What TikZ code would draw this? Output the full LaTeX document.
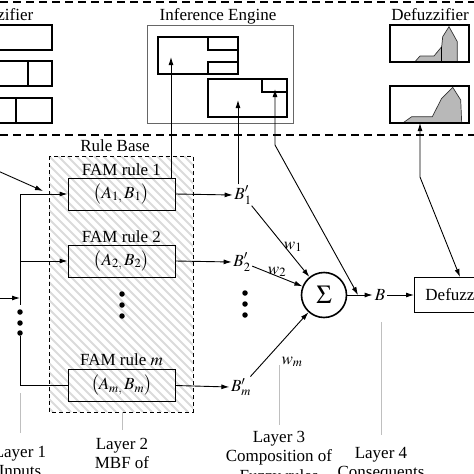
\documentclass[tikz,border=0pt]{standalone}
\usepackage{mathptmx}
\usepackage{fontspec}
\setmainfont{Liberation Serif}
\usetikzlibrary{arrows.meta}
\begin{document}
\begin{tikzpicture}[x=1pt,y=-1pt,
  font=\fontsize{17}{18.5}\selectfont,
  >={Latex[length=8pt,width=5pt]},
  conn/.style={->,line width=0.9pt},
  biconn/.style={<->,line width=0.9pt},
  plain/.style={line width=0.9pt},
  thickbox/.style={line width=1.6pt},
  famrect/.style={draw,line width=0.9pt,minimum width=107pt,minimum height=32pt,inner sep=0pt},
  lab/.style={inner sep=0pt},
  sepline/.style={line width=2pt,dash pattern=on 8pt off 5pt},
  layerline/.style={draw=black!25,line width=0.8pt},
  dotn/.style={circle,fill=black,inner sep=0pt,minimum size=5.5pt},
  shade/.style={fill=black!28,draw=black!80,line width=0.7pt}]
\useasboundingbox (0,0) rectangle (474,474);
\clip (0,0) rectangle (474,474);
\fill[white] (0,0) rectangle (474,474);

% separators
\draw[sepline] (0,1.5) -- (474,1.5);
\draw[sepline] (0,135) -- (474,135);

% Fuzzifier
\node[lab,anchor=base east] (fuzt) at (33.5,20) {Fuzzifier};
\draw[thickbox] (-10,25) rectangle (52,50);
\draw[thickbox] (-10,61) rectangle (52,86);
\draw[thickbox] (28,61) -- (28,86);
\draw[thickbox] (-10,98) rectangle (52,123);
\draw[thickbox] (16,98) -- (16,123);

% Inference engine
\node[lab,anchor=base] (iet) at (218,20) {Inference Engine};
\draw[draw=black!60,line width=0.9pt] (147,25) rectangle (293,123);
\draw[thickbox] (158,37) rectangle (238,74);
\draw[thickbox] (238,50) -- (208,50) -- (208,37);
\draw[thickbox] (238,62) -- (208,62) -- (208,74);
\draw[thickbox] (208,79) rectangle (287,117);
\draw[thickbox] (287,92) -- (262,92) -- (262,79);
\coordinate (ie1) at (171,57);
\coordinate (ie2) at (238,100);
\coordinate (ie3) at (275,89);

% Defuzzifier (top)
\node[lab,anchor=base] (dft) at (430,20) {Defuzzifier};
\fill[shade] (415,61.7) -- (420,56) -- (434,56) -- (441.7,46.7) -- (442.7,36.7) -- (449,26.7) -- (457.3,41.7) -- (457.3,61.7) -- cycle;
\draw[line width=1.2pt] (441.7,46.7) -- (441.7,61.7);
\draw[thickbox] (390,25) rectangle (469,62);
\fill[shade] (403.3,122.7) -- (411.7,116.7) -- (432.3,116.7) -- (441.7,98.3) -- (445,95) -- (452.7,87.3) -- (460.7,100) -- (461.7,122.7) -- cycle;
\draw[thickbox] (390,86) rectangle (469,123);
\coordinate (df2) at (420,123);

% Rule base hatch
\begin{scope}
  \clip (49,156) rectangle (193,412);
  \foreach \c in {-212,-203,...,200} \draw[black!14,line width=1.8pt] (\c,156) -- ++(256,256);
\end{scope}
\draw[line width=0.9pt,dash pattern=on 4pt off 3pt] (49,156) rectangle (193,412);
\node[lab,anchor=base] (rbt) at (115,151) {Rule Base};

% FAM rules
\node[famrect] (r1) at (121.5,194) {$\bigl(A_{1,}\,B_{1}\bigr)$};
\node[famrect] (r2) at (121.5,261) {$\bigl(A_{2,}\,B_{2}\bigr)$};
\node[famrect] (rm) at (121.5,385.5) {$\bigl(A_{m,}\,B_{m}\bigr)$};
\node[lab,anchor=base] (l1) at (121.5,175) {FAM rule 1};
\node[lab,anchor=base] (l2) at (121.5,242) {FAM rule 2};
\node[lab,anchor=base] (lm) at (121.5,365) {FAM rule $m$};
\node[dotn] (rd1) at (122,294) {};
\node[dotn] (rd2) at (122,305) {};
\node[dotn] (rd3) at (122,316) {};

% input bus
\coordinate (bt) at (20,194);
\coordinate (b2) at (20,261);
\coordinate (b3) at (20,298);
\coordinate (bb) at (20,305);
\coordinate (bm) at (20,385.5);
\node[dotn] (bd1) at (20,312) {};
\node[dotn] (bd2) at (20,323) {};
\node[dotn] (bd3) at (20,333) {};
\draw[plain] (bt) -- (bb);
\draw[plain] (bd3) -- (bm) -- (rm.west);
\draw[conn] (bt) -- (r1.west);
\draw[conn] (b2) -- (r2.west);
\coordinate (in3) at (-2,298);
\draw[conn] (in3) -- (b3);
\coordinate (d0) at (-2,171);
\coordinate (d1) at (43,191);
\draw[conn] (d0) -- (d1);

% consequents
\node[lab,inner sep=1.5pt] (B1) at (243,195) {$B'_1$};
\node[lab,inner sep=1.5pt] (B2) at (242,262) {$B'_2$};
\node[lab,inner sep=1.5pt] (Bm) at (241,387) {$B'_m$};
\draw[conn] (r1.east) -- (B1.west);
\draw[conn] (r2.east) -- (B2.west);
\draw[conn] (rm.east) -- (Bm.west);
\node[dotn] (cd1) at (245,293) {};
\node[dotn] (cd2) at (245,304) {};
\node[dotn] (cd3) at (245,315) {};

% sum
\node[circle,draw,line width=1.6pt,minimum size=45pt,inner sep=0pt] (sig) at (324,295) {\fontsize{26}{26}\selectfont$\Sigma$};
\draw[conn] (B1) -- (sig);
\draw[conn] (B2) -- (sig);
\draw[conn] (Bm) -- (sig);
\node[lab] (w1) at (293,247) {$w_1$};
\node[lab] (w2) at (277,272) {$w_2$};
\node[lab] (wm) at (292,362) {$w_m$};

\node[lab,inner sep=2pt] (B) at (380,295) {$B$};
\draw[conn] (sig) -- (B);
\node[draw,line width=0.9pt,anchor=west,minimum height=35pt,inner xsep=11pt] (dz) at (414,295) {Defuzzifier};
\draw[conn] (B) -- (dz.west);

% links to upper blocks
\draw[conn] (r1.north -| ie1) -- (ie1);
\draw[conn] (B1.north -| ie2) -- (ie2);
\coordinate (k3) at (275,145);
\coordinate (s3) at (358,295);
\draw[biconn] (s3) -- (k3) -- (ie3);
\coordinate (k4) at (420,177);
\coordinate (dzt) at (460,277);
\draw[biconn] (dzt) -- (k4) -- (df2);

% layer labels
\draw[layerline] (20,393) -- (20,433);
\draw[layerline] (122,412) -- (122,430);
\draw[layerline] (279,365) -- (279,425);
\draw[layerline] (381,322) -- (381,435);
\node[lab,anchor=base] (ly1a) at (20,457) {Layer 1};
\node[lab,anchor=base] (ly1b) at (20,476) {Inputs};
\node[lab,anchor=base] (ly2a) at (122,449) {Layer 2};
\node[lab,anchor=base] (ly2b) at (122,468) {MBF of};
\node[lab,anchor=base] (ly2c) at (122,487) {Antecedents};
\node[lab,anchor=base] (ly3a) at (279,442) {Layer 3};
\node[lab,anchor=base] (ly3b) at (279,461.5) {Composition of};
\node[lab,anchor=base] (ly3c) at (279,481) {Fuzzy rules};
\node[lab,anchor=base] (ly4a) at (381,458) {Layer 4};
\node[lab,anchor=base] (ly4b) at (381,477) {Consequents};
\end{tikzpicture}
\end{document}
